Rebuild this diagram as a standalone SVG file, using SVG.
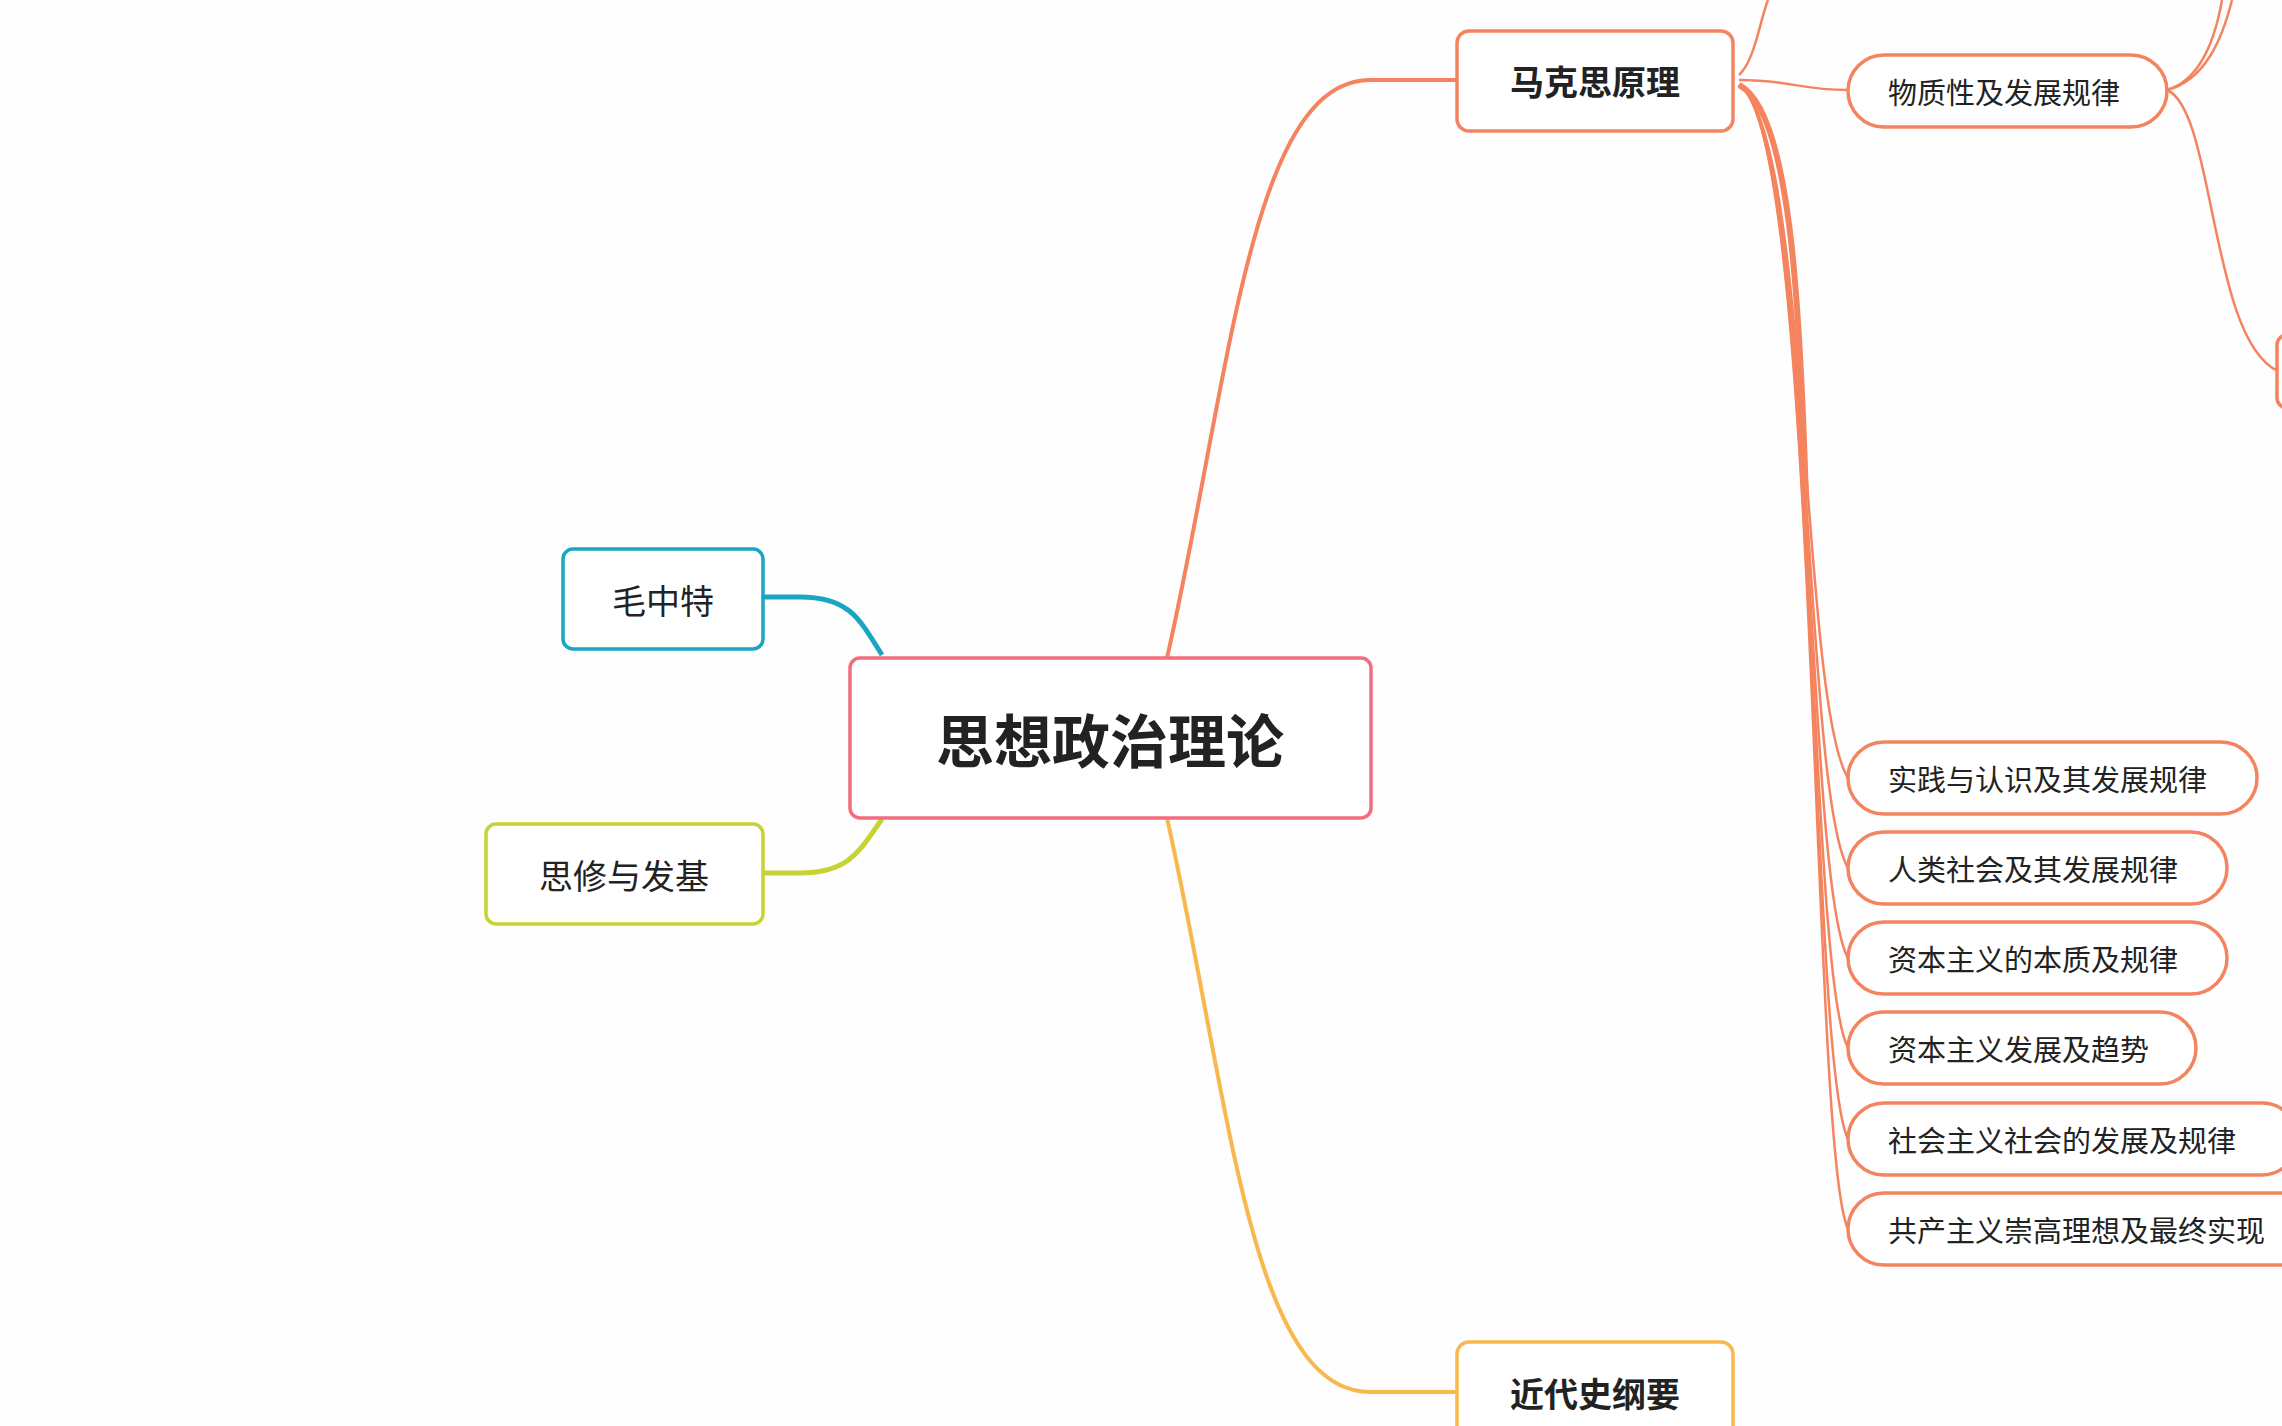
<svg xmlns="http://www.w3.org/2000/svg" width="2282" height="1426" viewBox="0 0 2282 1426">
<style>
text{font-family:"Noto Sans CJK SC","Noto Sans",sans-serif;fill:#222;dominant-baseline:central;}
.n{fill:#fff;stroke-width:3.5}
.o{stroke:#f4845f}
.e{fill:none}
.leaf{font-size:29px}
</style>
<rect width="2282" height="1426" fill="#fefefe"/>
<g id="connectors" class="e">
<path d="M1167,658 C1230,380 1250,80 1370,80 L1457,80" stroke="#f4845f" stroke-width="4"/>
<path d="M1167,818 C1230,1100 1250,1392 1370,1392 L1457,1392" stroke="#f8b84e" stroke-width="4"/>
<path d="M882,655 C860,620 850,597 800,597 L763,597" stroke="#1aa6c0" stroke-width="5"/>
<path d="M882,819 C860,850 850,873 800,873 L763,873" stroke="#c5d432" stroke-width="5"/>
<g stroke="#f4845f" stroke-width="2.5">
<path d="M1739,80 C1790,80 1800,90 1848,90"/>
<path d="M1739,75 C1755,60 1760,20 1768,0"/>
<path d="M2167,90 C2200,80 2215,40 2222,0"/>
<path d="M2167,90 C2205,80 2222,40 2232,0"/>
<path d="M2167,90 C2215,110 2210,340 2278,371"/>
<path d="M1739,85 C1810,130 1800,700 1848,778"/>
<path d="M1739,85 C1812,130 1802,790 1848,868"/>
<path d="M1739,85 C1814,130 1804,880 1848,958"/>
<path d="M1739,85 C1816,130 1806,970 1848,1048"/>
<path d="M1739,85 C1818,130 1808,1060 1848,1139"/>
<path d="M1739,85 C1820,130 1810,1150 1848,1229"/>
<path d="M1739,85 C1790,110 1800,300 1806,500" stroke-width="6"/>
</g>
</g>
<g id="center"><rect class="n" x="850" y="658" width="521" height="160" rx="10" stroke="#f06e7f" stroke-width="5"/><text x="1110" y="738" font-size="58" font-weight="bold" text-anchor="middle">思想政治理论</text></g>
<g id="mzt"><rect class="n" x="563" y="549" width="200" height="100" rx="10" stroke="#1aa6c0"/><text x="663" y="599" font-size="34" text-anchor="middle">毛中特</text></g>
<g id="sx"><rect class="n" x="486" y="824" width="277" height="100" rx="10" stroke="#c5d432"/><text x="624" y="874" font-size="34" text-anchor="middle">思修与发基</text></g>
<g id="mks"><rect class="n o" x="1457" y="31" width="276" height="100" rx="12"/><text x="1595" y="80" font-size="34" font-weight="bold" text-anchor="middle">马克思原理</text></g>
<g id="jds"><rect class="n" x="1457" y="1342" width="276" height="110" rx="12" stroke="#f8b84e"/><text x="1595" y="1392" font-size="34" font-weight="bold" text-anchor="middle">近代史纲要</text></g>
<g id="wzx"><rect class="n o" x="1848" y="55" width="319" height="72" rx="36"/><text class="leaf" x="1888" y="91">物质性及发展规律</text></g>
<g id="edge-node"><rect class="n o" x="2277" y="335" width="40" height="73" rx="10"/></g>
<g id="sj"><rect class="n o" x="1848" y="742" width="409" height="72" rx="36"/><text class="leaf" x="1888" y="778">实践与认识及其发展规律</text></g>
<g id="rl"><rect class="n o" x="1848" y="832" width="379" height="72" rx="36"/><text class="leaf" x="1888" y="868">人类社会及其发展规律</text></g>
<g id="zb1"><rect class="n o" x="1848" y="922" width="379" height="72" rx="36"/><text class="leaf" x="1888" y="958">资本主义的本质及规律</text></g>
<g id="zb2"><rect class="n o" x="1848" y="1012" width="348" height="72" rx="36"/><text class="leaf" x="1888" y="1048">资本主义发展及趋势</text></g>
<g id="sh"><rect class="n o" x="1848" y="1103" width="450" height="72" rx="36"/><text class="leaf" x="1888" y="1139">社会主义社会的发展及规律</text></g>
<g id="gc"><rect class="n o" x="1848" y="1193" width="480" height="72" rx="36"/><text class="leaf" x="1888" y="1229">共产主义崇高理想及最终实现</text></g>
</svg>
